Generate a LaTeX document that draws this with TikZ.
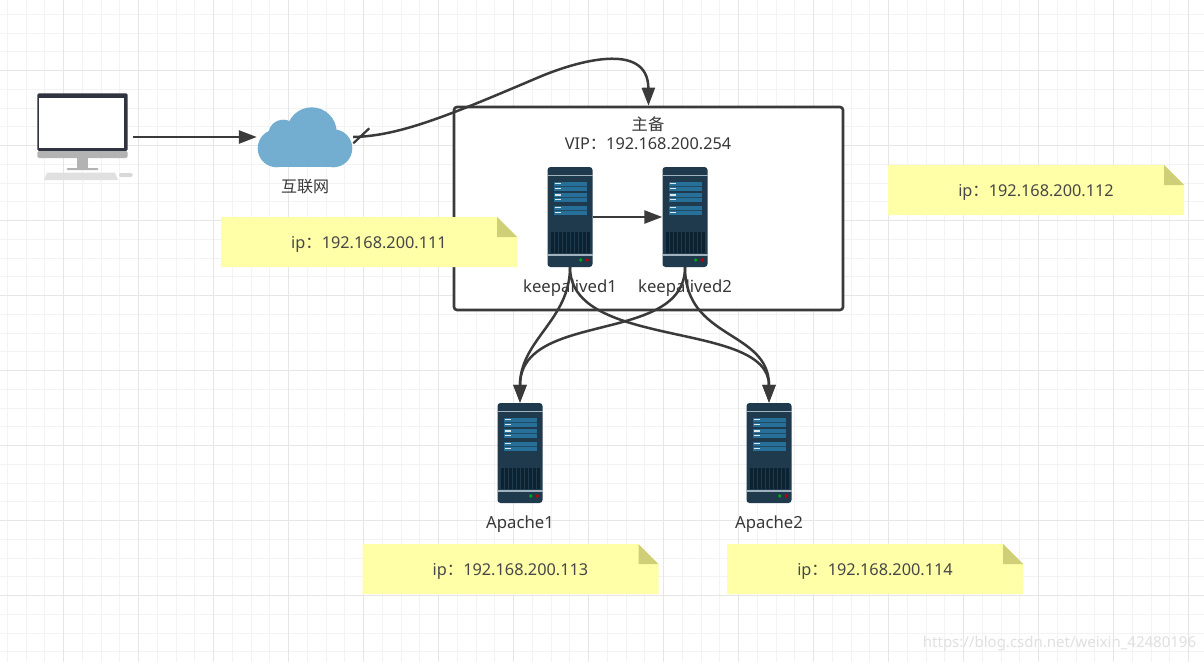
\documentclass[tikz,border=0pt]{standalone}
\usepackage{fontspec}
\setmainfont{Noto Sans}
\newfontfamily\cjk{Noto Sans CJK SC}
\newcommand{\zhcolon}{{\cjk\char"FF1A}}
\usetikzlibrary{positioning,arrows.meta}
\definecolor{gridminor}{HTML}{F3F3F3}
\definecolor{gridmajor}{HTML}{E6E6E6}
\definecolor{wire}{HTML}{3A3A3A}
\definecolor{srvbody}{HTML}{1F3A4C}
\definecolor{srvpanel}{HTML}{256F98}
\definecolor{srvgrill}{HTML}{0C2230}
\definecolor{srvline}{HTML}{9FB2BE}
\definecolor{cloudblue}{HTML}{73ADD0}
\definecolor{notepaper}{HTML}{FFFFA8}
\definecolor{notefold}{HTML}{CFCF78}
\definecolor{monitordark}{HTML}{2F3440}
\definecolor{monitorgrey}{HTML}{B3B3B3}
\tikzset{
    wired/.style={draw=wire,line width=2.5pt,-{Triangle[length=18pt,width=13pt]}},
    txt/.style={font=\fontsize{16.3}{18}\selectfont,text=black!78,inner sep=0pt,text height=13pt,text depth=0pt},
    holder/.style={inner sep=0pt,minimum width=#1},
    % the rack server, drawn round its centre
    srv/.pic={
        \fill[srvbody,rounded corners=3pt] (-22.5,-50) rectangle (22.5,50);
        \fill[srvline] (-22.5,-41.8) rectangle (22.5,-40.6);
        \fill[srvline] (-22.5,37) rectangle (22.5,38.6);
        \foreach \py in {-35.3,-24,-11.3} {
            \fill[srvpanel] (-16.5,\py) rectangle (16.5,\py+8.8);
            \fill[srvbody!70!srvpanel] (-16.5,\py+4) rectangle (16.5,\py+4.7);
            \fill[white!85!srvpanel] (-15,\py+1.3) rectangle (-9.5,\py+2.6);
            \fill[white!85!srvpanel] (-15,\py+6) rectangle (-9.5,\py+7.3);
        }
        \fill[srvgrill] (-19.2,15) rectangle (19.5,36);
        \foreach \gx in {-16,-12,...,16}
            \draw[srvbody,line width=0.6pt] (\gx,15) -- (\gx,36);
        \fill[green!60!black!90!cyan] (10.8,43) circle(1.9pt);
        \fill[red!75!black] (17.2,43) circle(1.9pt);
    },
    cloudpic/.pic={
        \fill[cloudblue] (-28,-7.3) rectangle (28,30.3);
        \fill[cloudblue] (-28.3,11.3) circle(19pt);
        \fill[cloudblue] (28.3,11.3) circle(19pt);
        \fill[cloudblue] (-21.7,-2.3) circle(15pt);
        \fill[cloudblue] (6.7,-4.7) circle(25pt);
    },
    monitorpic/.pic={
        \fill[monitordark,rounded corners=1.5pt] (-47.7,-43.7) rectangle (42.7,14);
        \fill[white] (-45.7,-38.7) rectangle (39.3,10.7);
        \fill[monitorgrey,rounded corners=1.5pt] (-47.7,14) rectangle (42.7,21);
        \fill[monitorgrey] (-7.7,21) rectangle (2.7,31);
        \fill[monitorgrey,rounded corners=1pt] (-18.3,31) rectangle (13.3,33);
        \fill[black!12] (-38,35.5) -- (30,35.5) -- (33,43) -- (-41,43) -- cycle;
        \fill[black!15,rounded corners=1.5pt] (34,36) rectangle (47.7,40);
    },
    ipnote/.pic={
        \fill[notepaper] (-148,-25) -- (128,-25) -- (148,-5) -- (148,25) -- (-148,25) -- cycle;
        \fill[notefold] (128,-25) -- (148,-5) -- (128,-5) -- cycle;
    },
}
\begin{document}
\begin{tikzpicture}[x=1pt,y=-1pt]
    \useasboundingbox (0,0) rectangle (1204,662);
    \fill[white] (0,0) rectangle (1204,662);

    % background grid
    \foreach \gx in {0,...,64}
        \draw[gridminor,line width=1pt] (7.25+18.75*\gx,0) -- (7.25+18.75*\gx,662);
    \foreach \gy in {0,...,35}
        \draw[gridminor,line width=1pt] (0,14.25+18.75*\gy) -- (1204,14.25+18.75*\gy);
    \foreach \gx in {0,...,15}
        \draw[gridmajor,line width=1pt] (63.5+75*\gx,0) -- (63.5+75*\gx,662);
    \foreach \gy in {0,...,7}
        \draw[gridmajor,line width=1pt] (0,70.5+75*\gy) -- (1204,70.5+75*\gy);

    % the group box
    \node[draw=wire,fill=white,line width=2.6pt,rounded corners=3pt,inner sep=0pt,
          minimum width=389pt,minimum height=203pt] (box) at (648.5,208.5) {};
    \node[txt] (boxtitle) at (648,124) {\cjk 主备};
    \node[txt] (boxvip) at (648,143) {VIP\zhcolon 192.168.200.254};

    % the computer and the cloud
    \node[holder=96pt,minimum height=87pt] (pc) at (85,137) {};
    \path (pc.center) pic {monitorpic};
    \node[holder=96pt,minimum height=60pt] (cloud) at (305,137) {};
    \path (cloud.center) pic {cloudpic};
    \node[txt,font=\fontsize{16}{18}\selectfont,below=12pt of cloud] (cloudtext) {\cjk 互联网};

    % servers with their names
    \foreach \sname/\sx/\sy/\stext in {
        keepa/570/217/keepalived1,
        keepb/685/217/keepalived2,
        apachea/520/453/Apache1,
        apacheb/769/453/Apache2} {
        \node[holder=45pt,minimum height=100pt] (\sname) at (\sx,\sy) {};
        \path (\sname.center) pic {srv};
        \node[txt,font=\fontsize{16.7}{18}\selectfont,below=12pt of \sname] (\sname text) {\stext};
    }

    % the notes
    \foreach \nname/\nx/\ny/\nip in {
        notea/369/242/111,
        noteb/1036/190/112,
        notec/510.5/569/113,
        noted/875/569/114} {
        \path (\nx,\ny) pic {ipnote};
        \node[txt,text=black!72] (\nname) at (\nx,\ny) {ip\zhcolon 192.168.200.\nip};
    }

    % connectors
    \coordinate (bend) at (540,76.7);
    \coordinate (ticka) at (353.3,143.3);
    \coordinate (tickb) at (369.3,128.3);
    \draw[wired] (pc.east) -- (cloud.west);
    \draw[wired] (cloud.east) .. controls (400,136) and (450,115) .. (bend)
        .. controls (575,62) and (648,40) .. (box.north);
    \draw[draw=wire,line width=2.2pt] (ticka) -- (tickb);
    \draw[wired] (keepa.east) -- (keepb.west);
    \draw[wired] (keepa.south) .. controls +(0,53) and +(0,-63) .. (apachea.north);
    \draw[wired] (keepa.south) .. controls +(0,83) and +(0,-83) .. (apacheb.north);
    \draw[wired] (keepb.south) .. controls +(0,78) and +(0,-93) .. (apachea.north);
    \draw[wired] (keepb.south) .. controls +(0,73) and +(0,-73) .. (apacheb.north);

    % watermark
    \node[inner sep=0pt,font=\fontsize{15}{18}\selectfont,text=black!12] (mark) at (1059.5,644) {https://blog.csdn.net/weixin\_42480196};
\end{tikzpicture}
\end{document}
